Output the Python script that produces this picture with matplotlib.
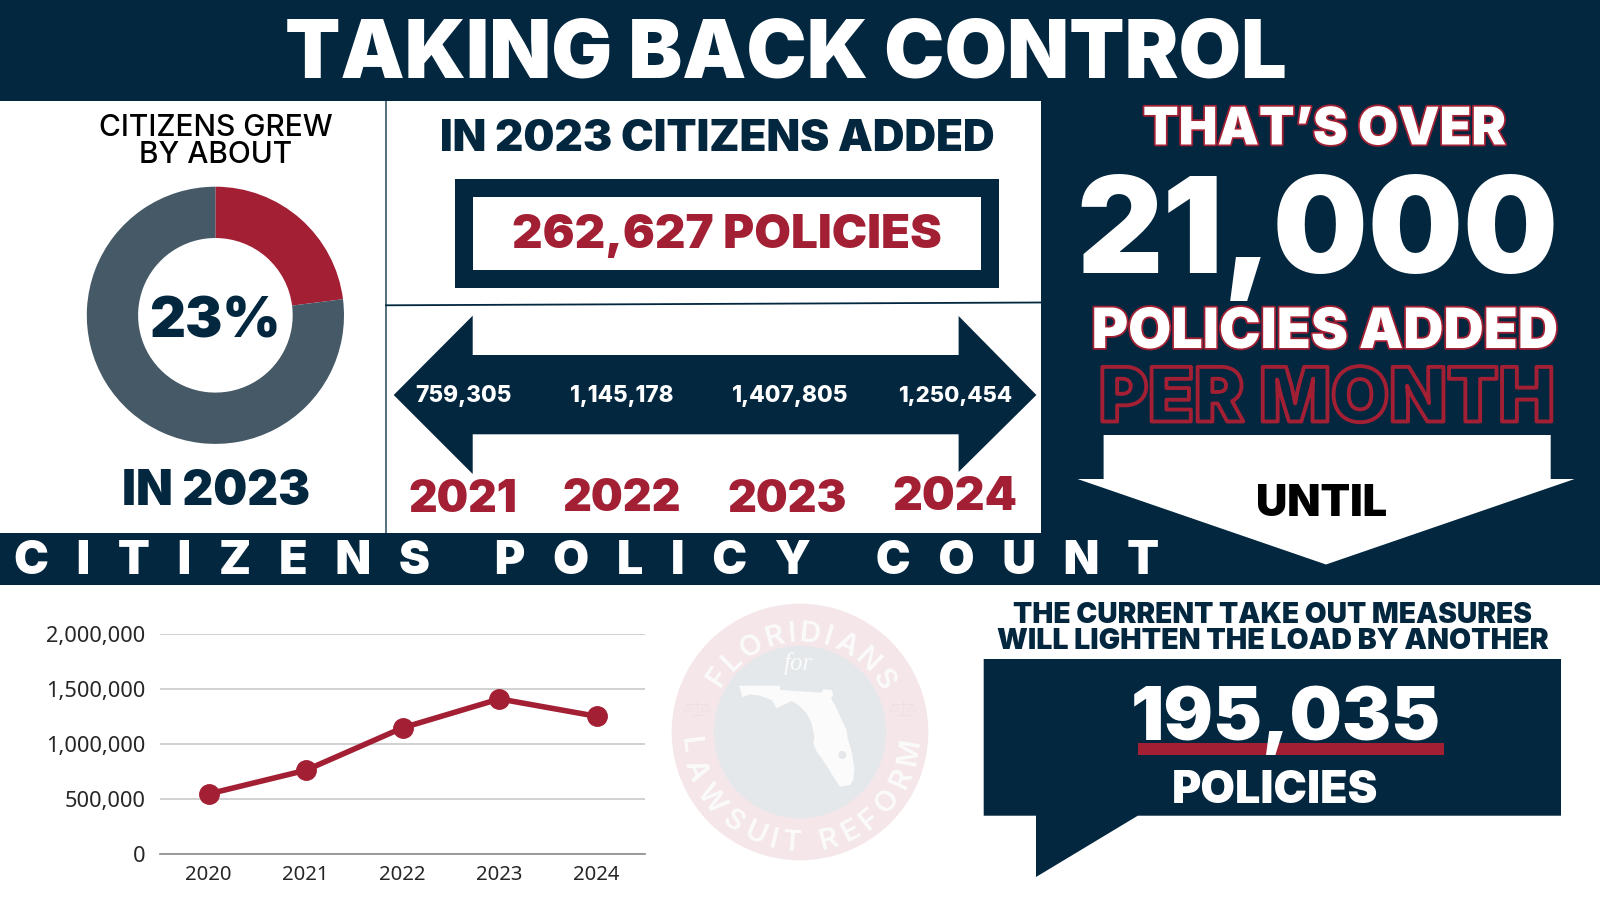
import numpy as np
import matplotlib
matplotlib.use('Agg')
import matplotlib.pyplot as plt
from matplotlib.patches import Polygon, Rectangle, Circle
from matplotlib.textpath import TextPath
from matplotlib.font_manager import FontProperties
import matplotlib.patheffects as pe

# ---- data ----
line_years = ['2020', '2021', '2022', '2023', '2024']
line_counts = [545000, 759305, 1145178, 1407805, 1250454]
y_ticks = [0, 500000, 1000000, 1500000, 2000000]
y_tick_labels = ['0', '500,000', '1,000,000', '1,500,000', '2,000,000']
donut_values = [23, 77]
arrow_years = ['2021', '2022', '2023', '2024']
arrow_counts = ['759,305', '1,145,178', '1,407,805', '1,250,454']

NAVY = '#02273F'
RED = '#A31F34'
SLATE = '#455966'
FONT = 'Inter'

fig = plt.figure(figsize=(16, 9), dpi=100, facecolor='white')
ax = fig.add_axes([0, 0, 1, 1])
ax.set_xlim(0, 1600)
ax.set_ylim(900, 0)
ax.axis('off')


def fit(s, x0, x1, base, color, weight=900, effects=None, z=10, **kw):
    """Text whose ink spans x0..x1 px (first line decides), last line on baseline `base` px."""
    fp = FontProperties(family=FONT, weight=weight)
    v = TextPath((0, 0), s.split('\n')[0], size=100, prop=fp).vertices
    k = (x1 - x0) / (v[:, 0].max() - v[:, 0].min())
    t = ax.text((x0 + x1) / 2, base, s, color=color, family=FONT, weight=weight,
                fontsize=100 * k * 0.72, ha='center', va='baseline', zorder=z, **kw)
    if effects:
        t.set_path_effects(effects)
    return t


def rect(x0, y0, x1, y1, color, z=1):
    ax.add_patch(Rectangle((x0, y0), x1 - x0, y1 - y0, fc=color, ec='none', zorder=z))


def poly(pts, color, z=2):
    ax.add_patch(Polygon(pts, closed=True, fc=color, ec='none', zorder=z))


# ---- navy panels ----
rect(0, 0, 1600, 101, NAVY)
rect(1041, 101, 1600, 585, NAVY)
rect(0, 533, 1600, 585, NAVY)
ax.plot([386, 386], [101, 533], color=NAVY, lw=1.1, zorder=2, alpha=.85)
ax.plot([386, 1041], [305.3, 302.5], color=NAVY, lw=1.3, zorder=2)

fit('TAKING BACK CONTROL', 286, 1286, 78, 'white')

# ---- donut panel ----
fit('CITIZENS GREW\nBY ABOUT', 99, 332.6, 163.3, 'black', 500, linespacing=0.95, multialignment='center')
dcx, dcy, dr = 215.4, 315.3, 128.6
dax = fig.add_axes([(dcx - dr) / 1600, 1 - (dcy + dr) / 900, 2 * dr / 1600, 2 * dr / 900])
dax.pie(donut_values, colors=[RED, SLATE], startangle=90, counterclock=False, radius=1,
        wedgeprops=dict(width=0.399, linewidth=0))
dax.set_xlim(-1, 1)
dax.set_ylim(-1, 1)
dax.set_zorder(1)
ax.set_zorder(2)
ax.patch.set_alpha(0)
fit(f'{donut_values[0]}%', 151, 278.6, 337.8, NAVY)
fit('IN 2023', 122.4, 309, 505, NAVY)

# ---- headline box ----
fit('IN 2023 CITIZENS ADDED', 440, 994, 151, NAVY)
rect(455, 179.3, 999, 287.7, NAVY)
rect(473, 197.3, 981, 270, 'white', z=2)
fit('262,627 POLICIES', 512.7, 941, 248.3, RED)

# ---- double arrow ----
poly([(393.7, 395), (472.7, 315.7), (472.7, 355), (958.6, 355), (958.6, 316),
      (1036.4, 395), (958.6, 472), (958.6, 434.3), (472.7, 434.3), (472.7, 474)], NAVY)
val_x = [(415.5, 511), (570, 673), (732, 848), (898, 1011.6)]
for s, (a, b) in zip(arrow_counts, val_x):
    fit(s, a, b, 401.7, 'white', 800)
year_x = [(409, 516, 512), (563, 680, 510.7), (728, 846, 512), (893.7, 1016.8, 510)]
for s, (a, b, c) in zip(arrow_years, year_x):
    fit(s, a, b, c, RED)

# ---- band ----
fit('C   I   T   I   Z   E   N   S       P   O   L   I   C   Y       C   O   U   N   T',
    13, 1160, 574.3, 'white')

# ---- right panel ----
red_edge = [pe.withStroke(linewidth=2.6, foreground=RED)]
fit('THAT\u2019S OVER', 1143, 1505.5, 144.5, 'white', effects=red_edge)
fit('21,000', 1079, 1556, 272.7, 'white')
fit('POLICIES ADDED', 1092.5, 1557, 348, 'white', effects=red_edge)
fit('PER MONTH', 1100.5, 1553, 421.5, NAVY, 900,
    effects=[pe.Normal(), pe.Stroke(linewidth=2.8, foreground=RED)])
poly([(1103.6, 435), (1550.7, 435), (1550.7, 479), (1574.6, 479), (1326, 564.5),
      (1077.5, 479), (1103.6, 479)], 'white', z=3)
fit('UNTIL', 1256, 1386.4, 516.5, 'black')

# ---- logo ----
lx, ly = 800, 732
ax.add_patch(Circle((lx, ly), 128.3, fc='#F5E6E9', ec='none', zorder=1))
ax.add_patch(Circle((lx, ly), 86.2, fc='#E4E8EB', ec='none', zorder=1.1))
florida_zx = [222, 345, 345, 470, 475, 500, 505, 498, 515, 530, 545, 548, 560, 568, 565, 555, 525,
              505, 490, 470, 455, 445, 448, 440, 425, 400, 380, 355, 335, 320, 285, 255, 232, 228]
florida_zy = [272, 272, 285, 293, 283, 285, 300, 310, 340, 375, 405, 430, 470, 520, 555, 570, 575,
              545, 520, 490, 470, 445, 425, 385, 355, 330, 318, 330, 340, 315, 302, 298, 307, 290]
ax.add_patch(Polygon(np.c_[665 + np.array(florida_zx) / 3, 595 + np.array(florida_zy) / 3],
                     closed=True, fc='#FBFBFB', ec='none', zorder=1.2))
ax.add_patch(Circle((665 + 532 / 3, 595 + 480 / 3), 4, fc='#E4E8EB', ec='none', zorder=1.3))
ax.text(798, 670, 'for', family='Liberation Serif', style='italic', fontsize=18, color='#FBFBFB',
        ha='center', va='baseline', zorder=1.3)


def arc_text(s, start, end, radius, top=True):
    fp = FontProperties(family=FONT, weight=600)
    adv = [TextPath((0, 0), c if c != ' ' else 'I', size=16, prop=fp).get_extents().width + 4 for c in s]
    cum = np.cumsum([0] + adv[:-1]) + np.array(adv) / 2
    cum = (cum - cum[0]) / (cum[-1] - cum[0])
    for c, u in zip(s, cum):
        a = np.radians(start + (end - start) * u)
        if top:
            x, y, rot = lx + radius * np.sin(a), ly - radius * np.cos(a), -np.degrees(a)
        else:
            x, y, rot = lx + radius * np.sin(a), ly + radius * np.cos(a), np.degrees(a)
        ax.text(x, y, c, family=FONT, weight=600, fontsize=21, color='#FBFBFB', rotation=rot,
                rotation_mode='anchor', ha='center', va='center_baseline', zorder=1.4)


arc_text('FLORIDIANS', -56, 58, 101)
arc_text('LAWSUIT REFORM', -83, 80, 109, top=False)
for sx in (696.7, 903.3):
    ax.plot([sx - 11, sx + 11], [704, 704], color='#EFE0E3', lw=0.7, zorder=1.2)
    ax.plot([sx, sx], [700, 715], color='#EFE0E3', lw=0.7, zorder=1.2)
    ax.plot([sx - 6, sx + 6], [715, 715], color='#EFE0E3', lw=0.7, zorder=1.2)
    for d in (-9, 9):
        ax.plot([sx + d - 4, sx + d, sx + d + 4, sx + d - 4], [711, 704, 711, 711],
                color='#EFE0E3', lw=0.6, zorder=1.2)

# ---- callout ----
fit('THE CURRENT TAKE OUT MEASURES', 1013.7, 1530.5, 622.7, NAVY)
fit('WILL LIGHTEN THE LOAD BY ANOTHER', 997, 1548.5, 649, NAVY)
poly([(983.7, 659), (1561, 659), (1561, 815.7), (1137.8, 815.7), (1036, 877), (1036, 815.7),
      (983.7, 815.7)], NAVY)
rect(1138.4, 743, 1443.6, 754.7, RED, z=3)
fit('195,035', 1131.8, 1439.4, 740, 'white')
fit('POLICIES', 1172.6, 1377.6, 803, 'white')

# ---- line chart ----
lax = fig.add_axes([160 / 1600, 1 - 854 / 900, 485 / 1600, (854 - 633.7) / 900])
lax.patch.set_alpha(0)
lax.set_zorder(3)
xs = np.arange(len(line_years))
lax.plot(xs, line_counts, color=RED, lw=4, marker='o', ms=14, mec=RED, clip_on=False, zorder=3,
         solid_capstyle='round')
lax.set_xlim(-0.5, 4.5)
lax.set_ylim(0, 2000000)
lax.set_xticks(xs)
lax.set_xticklabels(line_years)
lax.set_yticks(y_ticks)
lax.set_yticklabels(y_tick_labels)
lax.grid(axis='y', color='#CACACA', lw=1.2)
lax.set_axisbelow(True)
lax.tick_params(axis='y', length=0, labelsize=15.7, labelcolor='#262626', pad=10.5)
lax.tick_params(axis='x', length=0, labelsize=14.6, labelcolor='#262626', pad=8)
plt.setp(lax.get_xticklabels() + lax.get_yticklabels(), family='Noto Sans')
for k in ('top', 'left', 'right'):
    lax.spines[k].set_visible(False)
lax.spines['bottom'].set_color('#8C8C8C')
lax.spines['bottom'].set_linewidth(1.2)

fig.savefig('out.png', dpi=100)
